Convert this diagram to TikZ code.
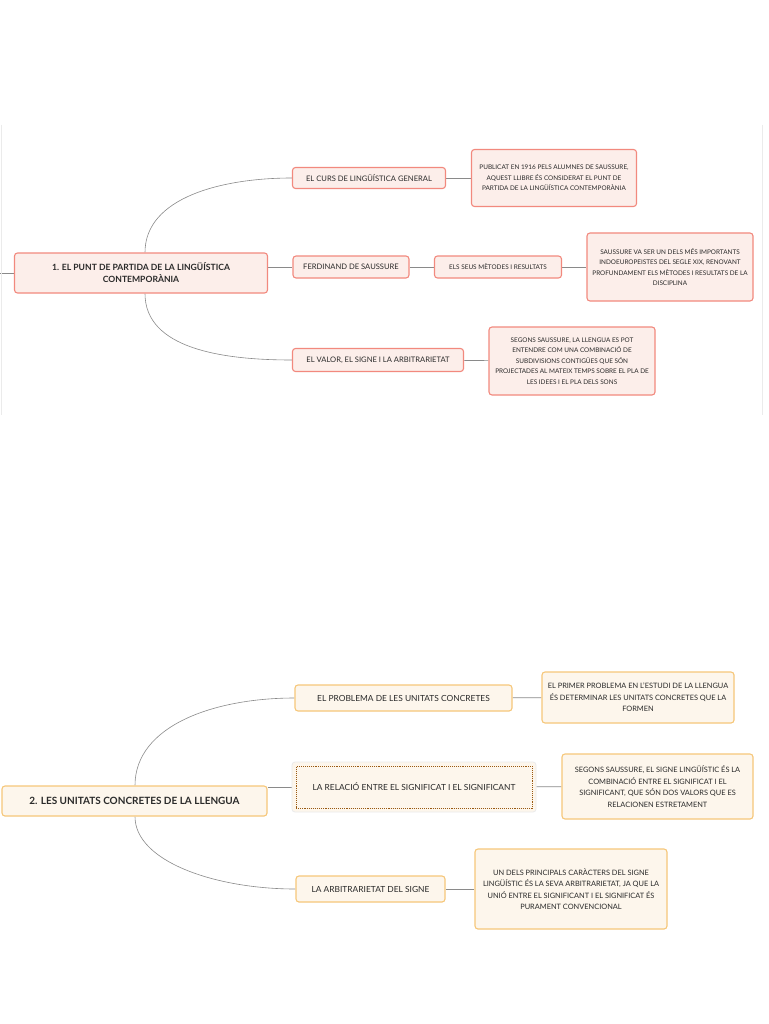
\documentclass[tikz,border=0pt]{standalone}
\usepackage{fontspec}
\setmainfont{Lato}
\usetikzlibrary{calc,backgrounds}
\definecolor{rosefill}{HTML}{FCEEEA}
\definecolor{roseline}{HTML}{F2897E}
\definecolor{sandfill}{HTML}{FDF6EC}
\definecolor{sandline}{HTML}{F6C77A}
\definecolor{dotline}{HTML}{9A5A12}
\definecolor{wirecol}{HTML}{8A8A8A}
\definecolor{panel}{HTML}{EBEBEB}
\definecolor{ink}{HTML}{2A2A2A}

\begin{document}
\begin{tikzpicture}[
    x=1pt, y=-1pt,
    box/.style={draw, rounded corners=3pt, line width=1.1pt, inner sep=0pt,
                align=center, text=ink},
    rose/.style={box, draw=roseline, fill=rosefill},
    sand/.style={box, draw=sandline, fill=sandfill},
    root/.style={font=\bfseries\fontsize{8.6}{12}\selectfont},
    rootb/.style={font=\bfseries\fontsize{10}{12}\selectfont},
    topic/.style={font=\fontsize{7.6}{9}\selectfont},
    topicb/.style={font=\fontsize{8.4}{10}\selectfont},
    note/.style={font=\fontsize{6.4}{10.5}\selectfont},
    noteb/.style={font=\fontsize{7.4}{11.5}\selectfont},
    wire/.style={draw=wirecol, line width=0.6pt},
  ]

  % fons blanc i mida fixa
  \begin{scope}[on background layer]
    \fill[white] (0,0) rectangle (768,1024);
  \end{scope}
  \useasboundingbox (0,0) rectangle (768,1024);

  % marc suau de la primera captura
  \draw[panel, line width=0.8pt] (1,125) -- (1,415);
  \draw[panel, line width=0.8pt] (762,125) -- (762,415);

  % ---------- mapa 1 ----------
  \node[rose, root, minimum width=253pt, minimum height=40pt] (main1) at (141,273)
    {1. EL PUNT DE PARTIDA DE LA LINGÜÍSTICA\\CONTEMPORÀNIA};
  \coordinate (in1) at (0,273);

  \node[rose, topic, minimum width=153pt, minimum height=21pt] (a1) at (369,178)
    {EL CURS DE LINGÜÍSTICA GENERAL};
  \node[rose, topic, minimum width=116pt, minimum height=22pt] (a2) at (351,267)
    {FERDINAND DE SAUSSURE};
  \node[rose, topic, minimum width=171pt, minimum height=23pt] (a3) at (378,360)
    {EL VALOR, EL SIGNE I LA ARBITRARIETAT};

  \node[rose, note, minimum width=165pt, minimum height=57pt] (b1) at (554,178)
    {PUBLICAT EN 1916 PELS ALUMNES DE SAUSSURE,\\AQUEST LLIBRE ÉS CONSIDERAT EL PUNT DE\\PARTIDA DE LA LINGÜÍSTICA CONTEMPORÀNIA};
  \node[rose, note, minimum width=127pt, minimum height=22pt] (b2) at (498,267)
    {ELS SEUS MÈTODES I RESULTATS};
  \node[rose, note, minimum width=166pt, minimum height=68pt] (c2) at (670,267)
    {SAUSSURE VA SER UN DELS MÉS IMPORTANTS\\INDOEUROPEISTES DEL SEGLE XIX, RENOVANT\\PROFUNDAMENT ELS MÈTODES I RESULTATS DE LA\\DISCIPLINA};
  \node[rose, note, minimum width=166pt, minimum height=68pt] (b3) at (572,361)
    {SEGONS SAUSSURE, LA LLENGUA ES POT\\ENTENDRE COM UNA COMBINACIÓ DE\\SUBDIVISIONS CONTIGÜES QUE SÓN\\PROJECTADES AL MATEIX TEMPS SOBRE EL PLA DE\\LES IDEES I EL PLA DELS SONS};

  \begin{scope}[on background layer]
    \draw[wire] (in1) -- (main1.west);
    \draw[wire] ($(main1.north)+(4,0)$) .. controls +(0,-55) and +(-70,0) .. (a1.west);
    \draw[wire] ($(main1.south)+(4,0)$) .. controls +(0,55) and +(-70,0) .. (a3.west);
    \draw[wire] (a2.west -| main1.east) -- (a2.west);
    \draw[wire] (a1) -- (b1);
    \draw[wire] (a2) -- (b2);
    \draw[wire] (b2) -- (c2);
    \draw[wire] (a3) -- (b3);
  \end{scope}

  % ---------- mapa 2 ----------
  \node[sand, rootb, minimum width=265pt, minimum height=30pt] (main2) at (134.5,801)
    {2. LES UNITATS CONCRETES DE LA LLENGUA};

  \node[sand, topicb, minimum width=217pt, minimum height=26pt] (d1) at (403.5,698)
    {EL PROBLEMA DE LES UNITATS CONCRETES};
  \node[box, draw=panel, fill=sandfill, line width=0.8pt, minimum width=244pt,
        minimum height=50pt] (d2) at (414,787) {};
  \node[box, draw=dotline, densely dotted, rounded corners=0pt, line width=1pt,
        topicb, minimum width=236pt, minimum height=42pt] (d2t) at (414,787)
    {LA RELACIÓ ENTRE EL SIGNIFICAT I EL SIGNIFICANT};
  \node[sand, topicb, minimum width=149pt, minimum height=26pt] (d3) at (370.5,889)
    {LA ARBITRARIETAT DEL SIGNE};

  \node[sand, noteb, minimum width=192pt, minimum height=51pt] (e1) at (638,697.5)
    {EL PRIMER PROBLEMA EN L'ESTUDI DE LA LLENGUA\\ÉS DETERMINAR LES UNITATS CONCRETES QUE LA\\FORMEN};
  \node[sand, noteb, minimum width=191pt, minimum height=65pt] (e2) at (657.5,786.5)
    {SEGONS SAUSSURE, EL SIGNE LINGÜÍSTIC ÉS LA\\COMBINACIÓ ENTRE EL SIGNIFICAT I EL\\SIGNIFICANT, QUE SÓN DOS VALORS QUE ES\\RELACIONEN ESTRETAMENT};
  \node[sand, noteb, minimum width=192pt, minimum height=80pt] (e3) at (571,889)
    {UN DELS PRINCIPALS CARÀCTERS DEL SIGNE\\LINGÜÍSTIC ÉS LA SEVA ARBITRARIETAT, JA QUE LA\\UNIÓ ENTRE EL SIGNIFICANT I EL SIGNIFICAT ÉS\\PURAMENT CONVENCIONAL};

  \begin{scope}[on background layer]
    \draw[wire] ($(main2.north)+(0.5,0)$) .. controls +(0,-60) and +(-80,0) .. (d1.west);
    \draw[wire] ($(main2.south)+(0.5,0)$) .. controls +(0,45) and +(-80,0) .. (d3.west);
    \draw[wire] (d2.west -| main2.east) -- (d2.west);
    \draw[wire] (d1) -- (e1);
    \draw[wire] (d2) -- (e2);
    \draw[wire] (d3) -- (e3);
  \end{scope}

\end{tikzpicture}
\end{document}
